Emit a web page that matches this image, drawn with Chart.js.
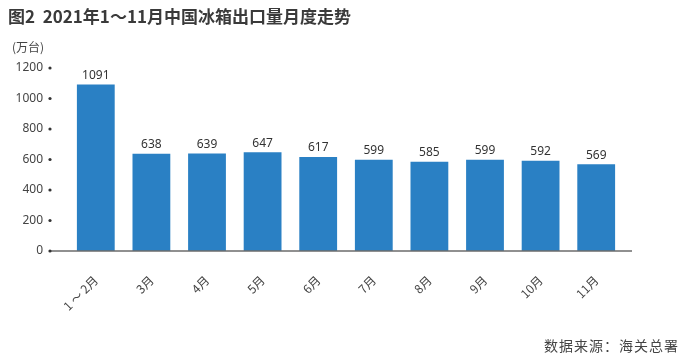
<!DOCTYPE html>
<html>
<head>
<meta charset="utf-8">
<script src="https://cdn.jsdelivr.net/npm/chart.js@4.4.1/dist/chart.umd.min.js"></script>
<style>
  body { margin: 0; background: #fff; }
  .wrap { position: relative; width: 686px; height: 359px; }
  .title { position: absolute; left: 8px; top: 3px; font: bold 17px "Noto Sans CJK SC", sans-serif; color: #3a3a3a; white-space: nowrap; }
  .unit { position: absolute; left: 12px; top: 38px; font: 12px "Noto Sans CJK SC", sans-serif; color: #444; }
  .source { position: absolute; right: 7px; top: 335px; font: 14px "Noto Sans CJK SC", sans-serif; color: #444; letter-spacing: 1px; }
</style>
</head>
<body>
<div class="wrap">
  <canvas id="exportChart" width="686" height="359"></canvas>
  <div class="title">图2&nbsp; 2021年1～11月中国冰箱出口量月度走势</div>
  <div class="unit">(万台)</div>
  <div class="source">数据来源：海关总署</div>
</div>
<script>
const months = ["1 ～ 2月", "3月", "4月", "5月", "6月", "7月", "8月", "9月", "10月", "11月"];
const exportVolume = [1091, 638, 639, 647, 617, 599, 585, 599, 592, 569];
const yTicks = [0, 200, 400, 600, 800, 1000, 1200];

const barColor = "#2a80c4";

// value labels above bars, dot tick marks, baseline
const decorPlugin = {
  id: "decor",
  afterDatasetsDraw(chart) {
    const ctx = chart.ctx;
    const meta = chart.getDatasetMeta(0);
    const yScale = chart.scales.y;
    const area = chart.chartArea;
    ctx.save();

    ctx.strokeStyle = "#6b6b6b";
    ctx.lineWidth = 1.5;
    ctx.beginPath();
    ctx.moveTo(area.left - 18, yScale.getPixelForValue(0));
    ctx.lineTo(area.right + 8, yScale.getPixelForValue(0));
    ctx.stroke();

    ctx.fillStyle = "#333";
    yTicks.forEach((t) => {
      ctx.beginPath();
      ctx.arc(area.left - 18, yScale.getPixelForValue(t), 1.6, 0, Math.PI * 2);
      ctx.fill();
    });

    ctx.font = "12px 'Noto Sans', sans-serif";
    ctx.textAlign = "center";
    ctx.textBaseline = "bottom";
    meta.data.forEach((bar, i) => {
      ctx.fillText(exportVolume[i], bar.x, bar.y - 3);
    });
    ctx.restore();
  },
};

new Chart(document.getElementById("exportChart"), {
  type: "bar",
  data: {
    labels: months,
    datasets: [
      {
        data: exportVolume,
        backgroundColor: barColor,
        barPercentage: 0.68,
        categoryPercentage: 1,
      },
    ],
  },
  options: {
    responsive: false,
    animation: false,
    layout: { padding: { top: 68, right: 62, bottom: 0, left: 0 } },
    plugins: { legend: { display: false }, tooltip: { enabled: false } },
    scales: {
      y: {
        min: 0,
        max: 1200,
        afterFit: (scale) => { scale.width = 68; },
        afterBuildTicks: (scale) => { scale.ticks = yTicks.map((v) => ({ value: v })); },
        grid: { display: false, drawTicks: false },
        border: { display: false },
        ticks: {
          padding: 25,
          color: "#444",
          font: { size: 12, family: "Noto Sans" },
          callback: (v) => String(v),
        },
      },
      x: {
        afterFit: (scale) => { scale.height = 108; },
        grid: { display: false, drawTicks: false },
        border: { display: false },
        ticks: {
          minRotation: 45,
          maxRotation: 45,
          padding: 22,
          color: "#444",
          font: { size: 12, family: "Noto Sans CJK SC" },
        },
      },
    },
  },
  plugins: [decorPlugin],
});
</script>
</body>
</html>
